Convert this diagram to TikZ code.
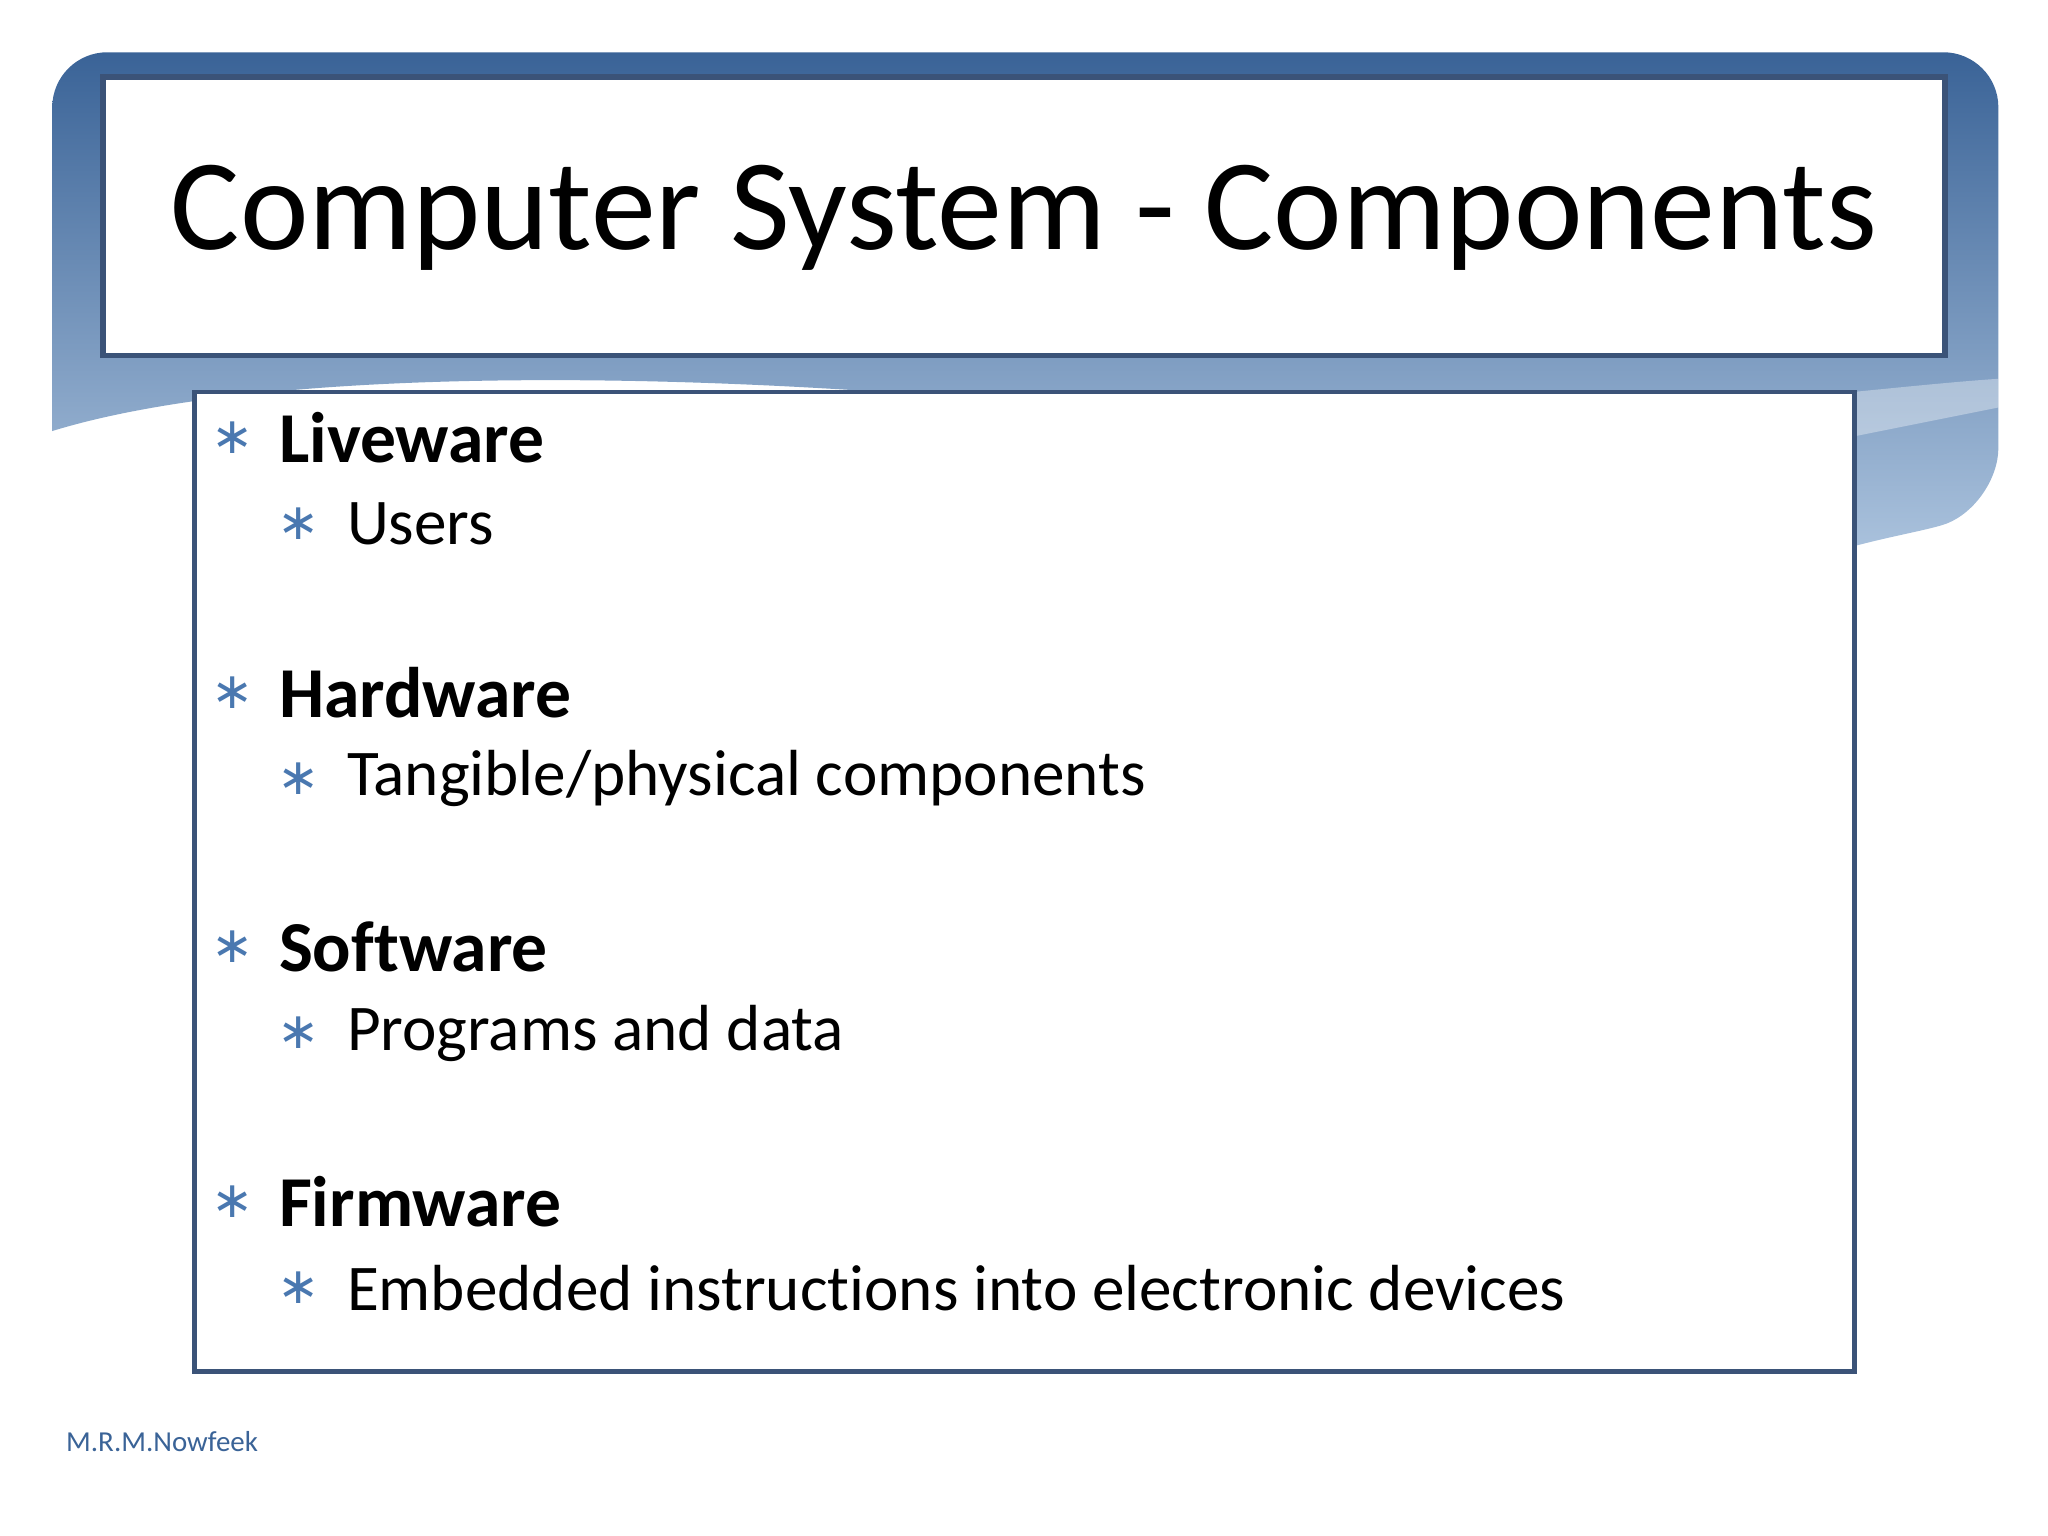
\documentclass[tikz,border=0pt]{standalone}
\usepackage{fontspec}
\setmainfont[Ligatures={NoCommon}]{Carlito}
\newfontfamily\symf{DejaVu Sans}
\begin{document}
\begin{tikzpicture}[x=0.1mm,y=-0.1mm,
  hd/.style={anchor=west,font=\fontsize{15.6}{19}\selectfont\bfseries,inner sep=0},
  sb/.style={anchor=west,font=\fontsize{14.2}{18}\selectfont,inner sep=0},
  ast/.style={anchor=center,font=\symf\fontsize{11}{13}\selectfont,text=astc,inner sep=0}]
\definecolor{bdark}{HTML}{3A6397}
\definecolor{blight}{HTML}{A9C1DC}
\definecolor{bord}{HTML}{3B5378}
\definecolor{astc}{HTML}{4A78B0}
\useasboundingbox (0,0) rectangle (1568,1176);
\fill[white] (0,0) rectangle (1568,1176);
% banner
\shade[top color=bdark,bottom color=blight,rounded corners=12]
  (40,330) -- (40,40) -- (1530,40) -- (1530,385)
  [sharp corners] .. controls (1480,405) and (1450,410) .. (1420,418)
  .. controls (1000,300) and (300,250) .. (40,330) -- cycle;
\fill[white,opacity=0.35] (1420,300) .. controls (1460,296) and (1500,292) .. (1530,290) -- (1530,312)
  .. controls (1490,320) and (1450,328) .. (1420,334) -- cycle;
\draw[bord,line width=1.2pt,fill=white] (79,59) rectangle (1489,272);
\coordinate (tc) at (784,167);
\node[font=\fontsize{28.3}{34}\selectfont] (tt) at (tc) {Computer System - Components};
\draw[bord,line width=1pt,fill=white] (149,300) rectangle (1420,1050);
\foreach \y/\h/\s [count=\i] in {335/Liveware/Users,530/Hardware/Tangible\slash physical components,725/Software/Programs and data,920/Firmware/Embedded instructions into electronic devices}{
  \node[ast] (a\i) at (178,\y) {∗};
  \node[hd] (h\i) at (213,\y) {\h};
  \node[ast] (b\i) at (229,\y+66) {∗};
  \node[sb] (s\i) at (265,\y+66) {\s};
}
\node[anchor=west,font=\fontsize{6.3}{8}\selectfont,text=bdark,inner sep=0] (ft) at (50,1104) {M.R.M.Nowfeek};
\end{tikzpicture}
\end{document}
